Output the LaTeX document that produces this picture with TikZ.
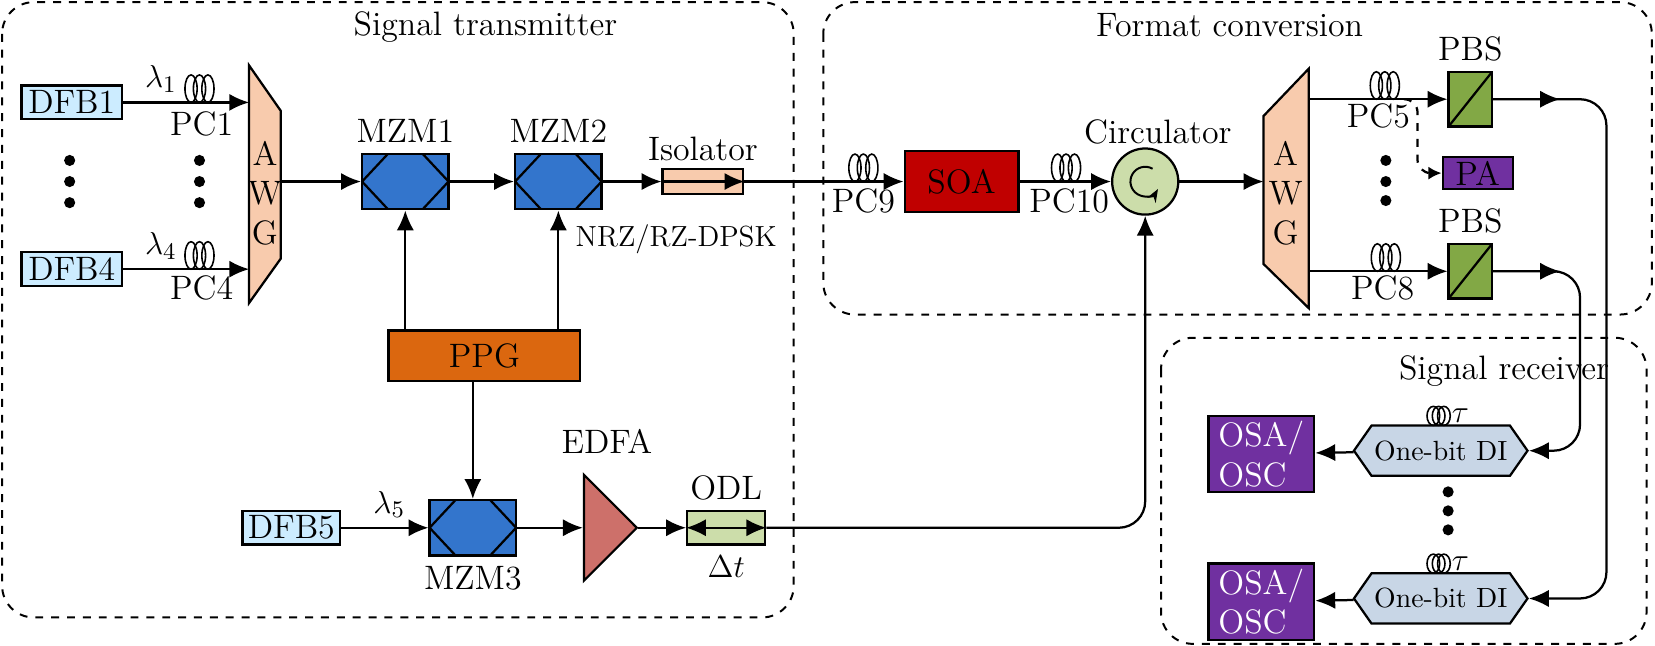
\documentclass[tikz,border=0pt]{standalone}
\usepackage{amsmath}
\usetikzlibrary{arrows.meta,positioning,shapes.geometric,shapes.symbols,calc}
\definecolor{dfbblue}{RGB}{204,236,255}
\definecolor{mzmblue}{RGB}{51,117,204}
\definecolor{awgpeach}{RGB}{248,203,173}
\definecolor{soared}{RGB}{192,0,0}
\definecolor{circgreen}{RGB}{204,221,170}
\definecolor{pbsgreen}{RGB}{130,168,69}
\definecolor{papurple}{RGB}{112,48,160}
\definecolor{ppgorange}{RGB}{219,103,15}
\definecolor{edfared}{RGB}{205,112,106}
\definecolor{digray}{RGB}{200,214,230}

\begin{document}
\begin{tikzpicture}[
  x=0.399pt, y=-0.399pt,
  line width=0.85pt,
  font=\fontsize{12.8}{15}\selectfont,
  >={Latex[length=7.5pt,width=6.5pt]},
  box/.style={draw, rectangle, inner sep=0pt},
  group/.style={draw, dashed, rounded corners=12pt, line width=0.75pt},
  dfb/.style={box, fill=dfbblue, minimum width=38pt, minimum height=12.7pt},
  mzm/.style={box, fill=mzmblue, minimum width=32.7pt, minimum height=21pt,
    path picture={
      \draw ($(path picture bounding box.north west)!0.3!(path picture bounding box.north east)$) -- (path picture bounding box.west)
        -- ($(path picture bounding box.south west)!0.3!(path picture bounding box.south east)$);
      \draw ($(path picture bounding box.north west)!0.7!(path picture bounding box.north east)$) -- (path picture bounding box.east)
        -- ($(path picture bounding box.south west)!0.7!(path picture bounding box.south east)$);}},
  pbs/.style={box, fill=pbsgreen, minimum width=16.4pt, minimum height=20.6pt,
    path picture={\draw (path picture bounding box.south west) -- (path picture bounding box.north east);}},
  osa/.style={box, fill=papurple, text=white, minimum width=40pt, minimum height=28.5pt, align=left, inner sep=2pt},
  di/.style={draw, fill=digray, signal, signal to=east and west, signal pointer angle=110,
    minimum width=56pt, minimum height=19pt, inner sep=1pt, font=\fontsize{10.5}{12}\selectfont},
  coil/.pic={\foreach \dx in {-8,0,8} \draw[line width=0.6pt] (\dx,-13) ellipse (2.3pt and 5.2pt);},
  tcoil/.pic={\foreach \dx in {-7,-2,3} \draw[line width=0.6pt] (\dx,-9) ellipse (2.4pt and 3.6pt);},
  dot/.style={circle, fill, inner sep=0pt, minimum size=4.2pt}
]
% groups
\draw[group] (2,2) rectangle (752,585);
\draw[group] (780,2) rectangle (1565,298);
\draw[group] (1100,320) rectangle (1560,610);
\node (txtitle) at (460,26) {Signal transmitter};
\node (fctitle) at (1165,24) {Format conversion};
\node (rxtitle) at (1425,352) {Signal receiver};

% transmitter
\node[dfb] (dfb1) at (68,97) {DFB1};
\node[dfb] (dfb4) at (68,255) {DFB4};
\foreach \y in {152,172,192} {
  \node[dot] at (66,\y) {};
  \node[dot] at (189,\y) {};
}
\draw[fill=awgpeach] (236,62) -- (266,105) -- (266,245) -- (236,287) -- cycle;
\node[align=center, inner sep=0pt] (awg1) at (251,183) {A\\W\\G};
\coordinate (awg1in1) at (236,97);
\coordinate (awg1in4) at (236,255);
\coordinate (awg1out) at (266,172);
\draw[->] (dfb1) -- node[pos=0.3, above] {$\lambda_1$} (awg1in1);
\draw[->] (dfb4) -- node[pos=0.3, above] {$\lambda_4$} (awg1in4);
\pic at (189,97) {coil};
\pic at (189,255) {coil};
\node (pc1) at (191,117) {PC1};
\node (pc4) at (191,273) {PC4};

\node[mzm, label=above:MZM1] (mzm1) at (384,172) {};
\node[mzm, label=above:MZM2] (mzm2) at (529,172) {};
\node[box, fill=awgpeach, minimum width=30.5pt, minimum height=9.5pt, label={[yshift=-1pt]above:Isolator}] (iso) at (666,172) {};
\draw[->] (iso.west) -- (iso.east);
\node[font=\fontsize{11}{13}\selectfont, anchor=north west] (nrz) at (536,203) {NRZ/RZ-DPSK};
\draw[->] (awg1out) -- (mzm1);
\draw[->] (mzm1) -- (mzm2);
\draw[->] (mzm2) -- (iso);

\node[box, fill=ppgorange, minimum width=72.5pt, minimum height=19pt] (ppg) at (459,337) {PPG};
\draw[->] (ppg.north -| mzm1) -- (mzm1);
\draw[->] (ppg.north -| mzm2) -- (mzm2);

\node[dfb, minimum width=37pt] (dfb5) at (276,500) {DFB5};
\node[mzm, label=below:MZM3] (mzm3) at (448,500) {};
\draw[->] (ppg.south -| mzm3) -- (mzm3);
\draw[->] (dfb5) -- node[pos=0.55, above] {$\lambda_5$} (mzm3);
\node[draw, fill=edfared, isosceles triangle, isosceles triangle apex angle=90,
  minimum height=20pt, inner sep=0pt] (edfa) at (574,500) {};
\node (edfalbl) at (575,418) {EDFA};
\node[box, fill=circgreen, minimum width=29.5pt, minimum height=12.7pt,
  label=above:ODL, label=below:$\Delta t$] (odl) at (688,500) {};
\draw[<->] (odl.west) -- (odl.east);
\draw[->] (mzm3) -- (edfa);
\draw[->] (edfa.apex) -- (odl);

% format conversion
\node[box, fill=soared, minimum width=43pt, minimum height=23pt] (soa) at (911,172) {SOA};
\node[circle, draw, fill=circgreen, minimum size=25pt, inner sep=0pt] (circ) at (1085,172) {};
\draw[-{Stealth[length=5pt]}, line width=0.75pt] (circ.center) ++(-60:14) arc[start angle=-60, end angle=-330, radius=14];
\node (circlbl) at (1097,125) {Circulator};
\draw[->] (iso.east) -- (soa);
\pic at (818,172) {coil};
\node (pc9) at (818,190) {PC9};
\draw[->] (soa) -- (circ);
\pic at (1010,172) {coil};
\node (pc10) at (1013,190) {PC10};
\draw[->, rounded corners=10pt] (odl.east) -| (circ.south);

\draw[fill=awgpeach] (1197,110) -- (1240,65) -- (1240,292) -- (1197,250) -- cycle;
\node[align=center, inner sep=0pt] (awg2) at (1218,183) {A\\W\\G};
\coordinate (awg2in) at (1197,172);
\coordinate (awg2out1) at (1240,94);
\coordinate (awg2out8) at (1240,257);
\draw[->] (circ) -- (awg2in);

\node[pbs, label=above:PBS] (pbs1) at (1393,94) {};
\node[pbs, label=above:PBS] (pbs8) at (1393,257) {};
\node[box, fill=papurple, minimum width=26.5pt, minimum height=12pt] (pa) at (1400,164) {PA};
\draw[->] (awg2out1) -- (pbs1);
\draw[->] (awg2out8) -- (pbs8);
\pic at (1312,94) {coil};
\pic at (1313,257) {coil};
\node (pc5) at (1306,110) {PC5};
\node (pc8) at (1310,273) {PC8};
\draw[-{Latex[length=5pt,width=5pt]}, dashed, rounded corners=5pt] (1330,94) -| (1343,164) -- (pa);
\foreach \y in {152,172,190} \node[dot] at (1313,\y) {};

% receiver
\node[di] (di1) at (1365,427) {One-bit DI};
\node[di] (di2) at (1365,567) {One-bit DI};
\node[osa] (osa1) at (1195,430) {OSA/\\OSC};
\node[osa] (osa2) at (1195,570) {OSA/\\OSC};
\pic at (1365,403) {tcoil};
\pic at (1365,543) {tcoil};
\node[anchor=west, inner sep=1pt] (tau1) at (1372,394) {$\tau$};
\node[anchor=west, inner sep=1pt] (tau2) at (1372,534) {$\tau$};
\foreach \y in {466,484,502} \node[dot] at (1372,\y) {};
\draw[->] (di1) -- (osa1);
\draw[->] (di2) -- (osa2);
\draw[->] (pbs1.east) -- (1478,94);
\draw[->, rounded corners=10pt] (pbs1.east) -| (1522,567) -- (di2.east);
\draw[->] (pbs8.east) -- (1478,257);
\draw[->, rounded corners=10pt] (pbs8.east) -| (1497,427) -- (di1.east);
\pgfresetboundingbox
\useasboundingbox (0,0) rectangle (1568,612);
\end{tikzpicture}
\end{document}
